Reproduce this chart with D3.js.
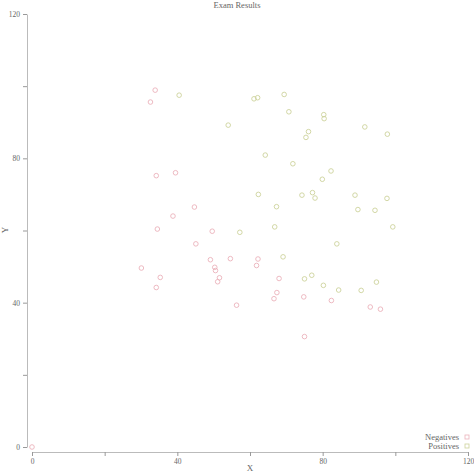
<!DOCTYPE html>
<html>
<head>
<meta charset="utf-8">
<script src="https://cdn.jsdelivr.net/npm/d3@7"></script>
<style>
  body { margin: 0; background: #fff; }
  text { font-family: 'Liberation Serif', 'DejaVu Serif', serif; }
</style>
</head>
<body>
<svg></svg>
<script>
// exam 1 / exam 2 scores, split by outcome
const negX = [33.9, 32.6, 39.5, 34.2, 44.7, 38.8, 34.5, 49.6, 45.1, 30.1, 35.3, 34.2,
  49.1, 50.3, 50.5, 51.6, 51.1, 54.6, 62.2, 61.8, 56.3, 68.0, 67.4, 66.6, 74.8,
  82.4, 93.1, 95.9, 75.0, 0];
const negY = [98.9, 95.6, 76.0, 75.2, 66.5, 64.0, 60.4, 59.8, 56.3, 49.6, 47.0, 44.2,
  51.9, 49.8, 48.9, 46.9, 45.8, 52.2, 52.1, 50.3, 39.3, 46.7, 42.8, 41.1, 41.6,
  40.6, 38.8, 38.2, 30.6, 0];

const posX = [40.5, 61.1, 62.1, 54.0, 64.2, 62.3, 69.4, 70.7, 80.3, 80.4, 91.6, 97.8,
  76.1, 75.4, 71.8, 82.3, 79.9, 74.3, 77.2, 77.9, 88.9, 97.7, 67.3, 89.7, 94.4,
  57.2, 66.8, 99.3, 83.9, 69.1, 75.0, 77.0, 80.2, 84.4, 90.6, 94.8];
const posY = [97.5, 96.5, 96.8, 89.2, 80.9, 70.0, 97.7, 92.9, 92.1, 91.0, 88.7, 86.7,
  87.4, 85.8, 78.5, 76.5, 74.2, 69.8, 70.5, 69.0, 69.8, 68.9, 66.6, 65.8, 65.6,
  59.5, 61.0, 61.0, 56.3, 52.7, 46.6, 47.6, 44.8, 43.5, 43.4, 45.7];

const xTicks = [0, 20, 40, 60, 80, 100, 120];
const yTicks = [0, 20, 40, 60, 80, 100, 120];
const legendLabels = ['Negatives', 'Positives'];
const colors = ['#ebb2bb', '#cdd29c'];
const textColor = '#666';

const w = 474;
const h = 474;
const svg = d3.select('svg').attr('width', w).attr('height', h);

const xScale = d3.scaleLinear().domain([0, 120]).range([32, 468]);
const yScale = d3.scaleLinear().domain([0, 120]).range([447, 14]);

const fmt = (d) => (d % 40 === 0 ? d : '');

const xAxis = d3.axisBottom(xScale).tickValues(xTicks).tickFormat(fmt).tickSize(4).tickSizeOuter(0);
const yAxis = d3.axisLeft(yScale).tickValues(yTicks).tickFormat(fmt).tickSize(4).tickSizeOuter(0);

const gx = svg.append('g').attr('transform', 'translate(0,452)').call(xAxis);
const gy = svg.append('g').attr('transform', 'translate(27,0)').call(yAxis);

[gx, gy].forEach((g) => {
  g.select('.domain').attr('stroke', '#bbb');
  g.selectAll('.tick line').attr('stroke', '#999');
  g.selectAll('.tick text').attr('fill', textColor).style('font-size', '7.5px')
    .style('font-family', "'Liberation Serif', serif");
});

svg.append('text').attr('x', 237).attr('y', 8).attr('text-anchor', 'middle')
  .attr('fill', textColor).style('font-size', '8.5px').text('Exam Results');
svg.append('text').attr('x', 250).attr('y', 471).attr('text-anchor', 'middle')
  .attr('fill', textColor).style('font-size', '9px').text('X');
svg.append('text').attr('transform', 'translate(8,230) rotate(-90)')
  .attr('text-anchor', 'middle').attr('fill', textColor).style('font-size', '9px').text('Y');

const drawSeries = (xs, ys, color) => {
  svg.append('g')
    .selectAll('circle')
    .data(xs.map((x, i) => [x, ys[i]]))
    .enter()
    .append('circle')
    .attr('cx', (d) => xScale(d[0]))
    .attr('cy', (d) => yScale(d[1]))
    .attr('r', 2.3)
    .attr('fill', 'none')
    .attr('stroke', color)
    .attr('stroke-width', 0.9);
};
drawSeries(negX, negY, colors[0]);
drawSeries(posX, posY, colors[1]);

// legend, bottom right
const legend = svg.append('g').selectAll('g').data(legendLabels).enter().append('g')
  .attr('transform', (d, i) => `translate(0,${437 + i * 9})`);
legend.append('text').attr('x', 459).attr('y', 3).attr('text-anchor', 'end')
  .attr('fill', textColor).style('font-size', '8.5px').text((d) => d);
legend.append('rect').attr('x', 465).attr('y', -2).attr('width', 4).attr('height', 4)
  .attr('fill', 'none').attr('stroke', (d, i) => colors[i]).attr('stroke-width', 0.8);
</script>
</body>
</html>
